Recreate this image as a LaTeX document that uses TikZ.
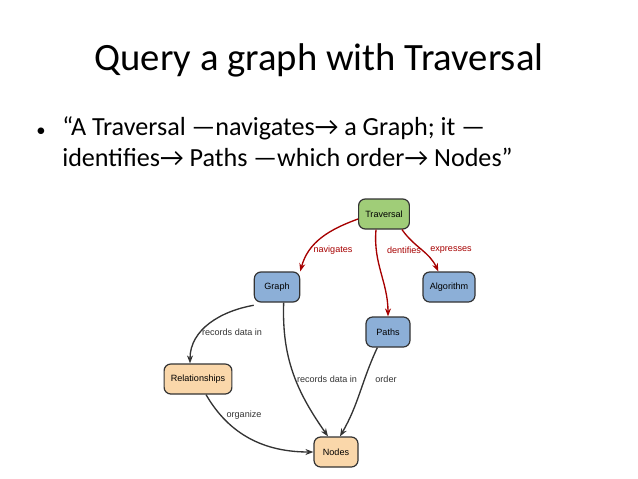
\documentclass[tikz,border=0pt]{standalone}
\usepackage{fontspec}
\setmainfont{Carlito}
\newfontfamily\nodefont{Liberation Sans}
\usetikzlibrary{arrows.meta}
\begin{document}
\begin{tikzpicture}[x=0.75pt,y=-0.75pt,
 box/.style={draw=black!80,line width=0.9pt,rounded corners=5pt,minimum height=22.5pt,font=\nodefont\fontsize{6.8}{7}\selectfont,inner xsep=5pt},
 red e/.style={draw=red!65!black,line width=1pt,-{Stealth[length=6pt]}},
 blk e/.style={draw=black!80,line width=1pt,-{Stealth[length=6pt]}},
 rl/.style={font=\nodefont\fontsize{6.8}{7}\selectfont,text=red!65!black},
 bl/.style={font=\nodefont\fontsize{6.8}{7}\selectfont,text=black!80}]
\useasboundingbox (0,0) rectangle (638,478);
\node[font=\fontsize{29}{32}\selectfont] (title) at (319,60) {Query a graph with Traversal};
\node[font=\fontsize{14}{16}\selectfont] (bul) at (41,132) {•};
\node[anchor=north west,align=left,inner sep=0pt,font=\fontsize{19.6}{23.5}\selectfont] (txt) at (62,116) {“A Traversal —navigates→ a Graph; it —\\ identifies→ Paths —which order→ Nodes”};
\node[box,fill={rgb,255:red,160;green,205;blue,120},minimum width=36pt] (trav) at (384,214) {Traversal};
\node[box,fill={rgb,255:red,140;green,175;blue,215},minimum width=34pt] (graph) at (277,287) {Graph};
\node[box,fill={rgb,255:red,140;green,175;blue,215},minimum width=39pt] (alg) at (449,287) {Algorithm};
\node[box,fill={rgb,255:red,140;green,175;blue,215},minimum width=33pt] (paths) at (388,332) {Paths};
\node[box,fill={rgb,255:red,250;green,215;blue,170},minimum width=49pt] (rel) at (198,379) {Relationships};
\node[box,fill={rgb,255:red,250;green,215;blue,170},minimum width=33pt] (nodes) at (336,452) {Nodes};
\draw[red e] (trav.west) ++(0,5) coordinate (t1) to[out=200,in=75] (graph.north east);
\draw[red e] ([xshift=-6]trav.south) to[out=-95,in=90] (paths.north);
\draw[red e] ([xshift=-6]trav.south east) to[out=-55,in=115] ([xshift=-8]alg.north);
\draw[blk e] ([yshift=-2]graph.south west) to[out=190,in=90] ([xshift=-6]rel.north);
\draw[blk e] ([xshift=5]graph.south) to[out=-92,in=125] ([xshift=-6]nodes.north);
\draw[blk e] ([xshift=-8]paths.south) to[out=-115,in=60] ([xshift=3]nodes.north);
\draw[blk e] ([xshift=6]rel.south) to[out=-60,in=180] (nodes.west);
\node[rl] (l1) at (333,250) {navigates};
\node[rl] (l2) at (404,250) {dentifies};
\node[rl] (l3) at (451,250) {expresses};
\node[bl] (l4) at (232,332) {records data in};
\node[bl] (l5) at (327,379) {records data in};
\node[bl] (l6) at (386,379) {order};
\node[bl] (l7) at (244,415) {organize};
\end{tikzpicture}
\end{document}
